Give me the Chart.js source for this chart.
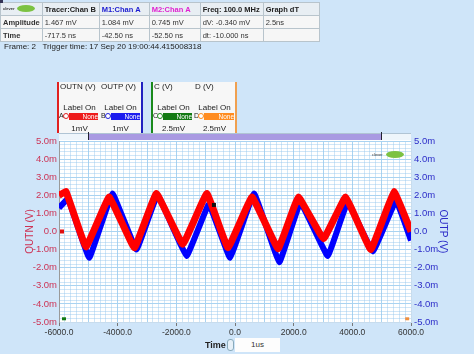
<!DOCTYPE html>
<html><head><meta charset="utf-8">
<script src="https://cdn.jsdelivr.net/npm/chart.js@4.4.0/dist/chart.umd.min.js"></script>
<style>
html,body{margin:0;padding:0;}
body{width:474px;height:354px;background:#cfe5f9;position:relative;overflow:hidden;font-family:"Liberation Sans",Arial,sans-serif;}
#c{position:absolute;left:0;top:0;z-index:0;}
.ov{position:absolute;z-index:1;}
table.t{border-collapse:collapse;font-size:7.5px;color:#333;}
table.t td{border:1px solid #b8c4cc;height:12px;padding:0 2px;background:#f6f6f6;white-space:nowrap;}
table.t tr.h td{background:#e8eef3;font-weight:bold;color:#222;}
.lg{background:#f7f7f7;font-size:8px;color:#222;}
.logo{display:inline-block;position:relative;width:32px;height:7px;}
.logo .a{position:absolute;left:0;top:1px;font-size:4px;color:#333;}
.logo .b{position:absolute;left:14px;top:0;width:18px;height:7px;border-radius:50%;background:#7cc242;}
</style></head>
<body>
<canvas id="c" width="474" height="354"></canvas>

<div class="ov" style="left:0;top:2px;">
<table class="t">
<tr class="h"><td style="width:32px"><span class="logo"><span class="a">clever</span><span class="b"></span></span></td><td style="width:52px">Tracer:Chan B</td><td style="width:45px;color:#1a1ad0">M1:Chan A</td><td style="width:46px;color:#e020d0">M2:Chan A</td><td style="width:58px">Freq: 100.0 MHz</td><td style="width:51px">Graph dT</td></tr>
<tr><td style="font-weight:bold">Amplitude</td><td>1.467 mV</td><td>1.084 mV</td><td>0.745 mV</td><td>dV: -0.340 mV</td><td>2.5ns</td></tr>
<tr><td style="font-weight:bold">Time</td><td>-717.5 ns</td><td>-42.50 ns</td><td>-52.50 ns</td><td>dt: -10.000 ns</td><td></td></tr>
</table>
</div>
<div class="ov" style="left:0;top:0;width:3px;height:3px;background:#335;"></div>
<div class="ov" style="left:4px;top:42px;font-size:8px;color:#222;white-space:pre;">Frame: 2   Trigger time: 17 Sep 20 19:00:44.415008318</div>

<!-- legend boxes -->
<div class="ov lg" style="left:57px;top:82px;width:85px;height:51px;"></div>
<div class="ov lg" style="left:151px;top:82px;width:85px;height:51px;"></div>
<div class="ov" style="left:57px;top:82px;width:2px;height:51px;background:#e02020"></div>
<div class="ov" style="left:141px;top:82px;width:2px;height:51px;background:#2020c0"></div>
<div class="ov" style="left:151px;top:82px;width:2px;height:51px;background:#1a8a1a"></div>
<div class="ov" style="left:235px;top:82px;width:2px;height:51px;background:#f0a050"></div>

<div class="ov" style="left:60px;top:82px;font-size:8px;color:#222">OUTN (V)</div>
<div class="ov" style="left:101px;top:82px;font-size:8px;color:#222">OUTP (V)</div>
<div class="ov" style="left:154px;top:82px;font-size:8px;color:#222">C (V)</div>
<div class="ov" style="left:195px;top:82px;font-size:8px;color:#222">D (V)</div>

<div class="ov" style="left:59px;top:103px;width:41px;text-align:center;font-size:8px;color:#222">Label On</div>
<div class="ov" style="left:100px;top:103px;width:41px;text-align:center;font-size:8px;color:#222">Label On</div>
<div class="ov" style="left:153px;top:103px;width:41px;text-align:center;font-size:8px;color:#222">Label On</div>
<div class="ov" style="left:194px;top:103px;width:41px;text-align:center;font-size:8px;color:#222">Label On</div>

<div class="ov" style="left:59px;top:112px;font-size:7px;color:#222">A</div>
<div class="ov" style="left:63px;top:113px;width:4px;height:4px;border:1.5px solid #e02020;border-radius:50%;background:#fff"></div>
<div class="ov" style="left:69px;top:113px;width:29px;height:7px;background:#ee1c1c;color:#fff;font-size:6.5px;text-align:right;line-height:7px;">None</div>
<div class="ov" style="left:101px;top:112px;font-size:7px;color:#222">B</div>
<div class="ov" style="left:105px;top:113px;width:4px;height:4px;border:1.5px solid #2020e0;border-radius:50%;background:#fff"></div>
<div class="ov" style="left:111px;top:113px;width:29px;height:7px;background:#1c1cee;color:#fff;font-size:6.5px;text-align:right;line-height:7px;">None</div>
<div class="ov" style="left:153px;top:112px;font-size:7px;color:#222">C</div>
<div class="ov" style="left:157px;top:113px;width:4px;height:4px;border:1.5px solid #1a8a1a;border-radius:50%;background:#fff"></div>
<div class="ov" style="left:163px;top:113px;width:29px;height:7px;background:#137a13;color:#fff;font-size:6.5px;text-align:right;line-height:7px;">None</div>
<div class="ov" style="left:194px;top:112px;font-size:7px;color:#222">D</div>
<div class="ov" style="left:198px;top:113px;width:4px;height:4px;border:1.5px solid #ff8c1a;border-radius:50%;background:#fff"></div>
<div class="ov" style="left:204px;top:113px;width:30px;height:7px;background:#ff8c20;color:#fff;font-size:6.5px;text-align:right;line-height:7px;">None</div>

<div class="ov" style="left:59px;top:124px;width:41px;text-align:center;font-size:8px;color:#222">1mV</div>
<div class="ov" style="left:100px;top:124px;width:41px;text-align:center;font-size:8px;color:#222">1mV</div>
<div class="ov" style="left:153px;top:124px;width:41px;text-align:center;font-size:8px;color:#222">2.5mV</div>
<div class="ov" style="left:194px;top:124px;width:41px;text-align:center;font-size:8px;color:#222">2.5mV</div>

<!-- overview bar -->
<div class="ov" style="left:59px;top:133px;width:352px;height:6px;background:#eef5fb;border-top:1px solid #b0c4d4;"></div>
<div class="ov" style="left:89px;top:134px;width:292px;height:6px;background:#a99ae2;"></div>
<div class="ov" style="left:88px;top:132px;width:1px;height:8px;background:#223;"></div>
<div class="ov" style="left:381px;top:132px;width:1px;height:8px;background:#223;"></div>

<!-- logo in plot -->
<div class="ov" style="left:372px;top:144px;"><span class="logo"><span class="a">clever</span><span class="b"></span></span></div>

<!-- time control -->
<div class="ov" style="left:205px;top:340px;font-size:9px;font-weight:bold;color:#222">Time</div>
<div class="ov" style="left:227px;top:339px;width:5px;height:10px;border:1px solid #8ab;border-radius:3px;background:#e6f0f8"></div>
<div class="ov" style="left:235px;top:338px;width:45px;height:14px;background:#fdfdfd;font-size:8px;color:#333;text-align:center;line-height:14px;">1us</div>

<script>
// ---- data (time in ns, voltage in mV) ----
const timeOutn = [-6000,-5760,-5080,-4290,-3430,-2680,-1780,-960,-240,580,1470,2160,3020,3770,4630,5420,6000];
const outn     = [2.0,2.2,-0.85,1.9,-0.9,2.1,-0.7,2.1,-0.9,1.9,-0.95,1.9,-0.4,1.9,-1.0,2.2,0.0];
const timeOutp = [-6000,-5690,-4970,-4180,-3360,-2640,-1650,-890,-170,650,1510,2230,3160,3840,4700,5490,6000];
const outp     = [1.3,1.8,-1.45,2.1,-1.0,2.0,-1.35,1.5,-1.45,2.1,-1.7,1.6,-1.35,1.6,-1.1,1.7,-0.5];
const xTickLabels = [-6000,-4000,-2000,0,2000,4000,6000];
const yTickLabels = [5,4,3,2,1,0,-1,-2,-3,-4,-5];
// markers: cursor (Tracer Chan B), zero marker, trigger markers
const cursorTime = [-717.5], cursorAmp = [1.467];
const zeroMarkerTime = [-6000], zeroMarkerAmp = [0];
const trigMarkerTime = [-5830, 5870], trigMarkerAmp = [-4.85, -4.85];

const isMult = (v, m) => Math.abs(v/m - Math.round(v/m)) < 1e-6;

const markerPlugin = {
  id: 'markers',
  beforeDraw(chart) {
    const {ctx, chartArea: a} = chart;
    ctx.save();
    ctx.fillStyle = '#ffffff';
    ctx.fillRect(a.left, a.top - 2, a.right - a.left, a.bottom - a.top + 3);
    ctx.restore();
  },
  afterDatasetsDraw(chart) {
    const {ctx} = chart;
    const xs = chart.scales.x, yl = chart.scales.y, yr = chart.scales.y2;
    ctx.save();
    ctx.fillStyle = '#e01010';
    zeroMarkerTime.forEach((t,i)=>{ ctx.fillRect(xs.getPixelForValue(t)+1, yl.getPixelForValue(zeroMarkerAmp[i])-2, 4, 4); });
    ctx.fillStyle = '#111';
    cursorTime.forEach((t,i)=>{ ctx.fillRect(xs.getPixelForValue(t)-2, yr.getPixelForValue(cursorAmp[i])-2, 4, 4); });
    const tc = ['#137a13', '#f09040'];
    trigMarkerTime.forEach((t,i)=>{ ctx.fillStyle = tc[i]; ctx.fillRect(xs.getPixelForValue(t)-2, yl.getPixelForValue(trigMarkerAmp[i])-2, 4, 3); });
    ctx.restore();
  }
};

const tickFont = {family: 'Liberation Sans', size: 9.5};
const xTickFont = {family: 'Liberation Sans', size: 8.5};
const minorGrid = 'rgba(150,200,238,0.45)';
const majorGrid = '#a9d3f1';

new Chart(document.getElementById('c'), {
  type: 'line',
  data: {
    datasets: [
      {label: 'OUTN (V)', data: timeOutn.map((t,i)=>({x:t, y:outn[i]})), borderColor: '#ff0000', borderWidth: 7, yAxisID: 'y', order: 0, pointRadius: 0, tension: 0.07},
      {label: 'OUTP (V)', data: timeOutp.map((t,i)=>({x:t, y:outp[i]})), borderColor: '#0000ff', borderWidth: 6, yAxisID: 'y2', order: 1, pointRadius: 0, tension: 0.07}
    ]
  },
  options: {
    responsive: false,
    animation: false,
    layout: {padding: {left: 0, right: 0, top: 141, bottom: 10}},
    plugins: {legend: {display: false}, tooltip: {enabled: false}},
    scales: {
      x: {
        type: 'linear', min: -6000, max: 6000,
        afterFit(s){ s.height = 22; },
        ticks: {stepSize: 200, autoSkip: false, maxRotation: 0, color: '#333', font: xTickFont, padding: 2,
          callback: v => xTickLabels.some(l => Math.abs(l - v) < 1e-6) ? v.toFixed(1) : ''},
        grid: {drawTicks: true, tickLength: 4,
          color: c => isMult(c.tick.value, 1000) ? majorGrid : minorGrid,
          tickColor: c => xTickLabels.some(l => Math.abs(l - c.tick.value) < 1e-6) ? '#777' : 'rgba(0,0,0,0)'},
        border: {color: '#c8dced'}
      },
      y: {
        position: 'left', min: -5, max: 5,
        afterFit(s){ s.width = 59; },
        ticks: {stepSize: 0.2, autoSkip: false, color: '#cc3355', font: tickFont, padding: 2,
          callback: v => yTickLabels.some(l => Math.abs(l - v) < 1e-6) ? (Math.abs(v) < 1e-6 ? '0.0' : v.toFixed(1) + 'm') : ''},
        grid: {drawTicks: false, color: c => isMult(c.tick.value, 1) ? majorGrid : minorGrid},
        border: {color: '#9a9a9a'},
        title: {display: true, text: 'OUTN (V)', color: '#cc3355', font: {family: 'Liberation Sans', size: 10}, padding: {top: 24, bottom: 0}}
      },
      y2: {
        position: 'right', min: -5, max: 5,
        afterFit(s){ s.width = 63; },
        ticks: {stepSize: 0.2, autoSkip: false, color: '#2c2cc8', font: tickFont, padding: 3,
          callback: v => yTickLabels.some(l => Math.abs(l - v) < 1e-6) ? (Math.abs(v) < 1e-6 ? '0.0' : v.toFixed(1) + 'm') : ''},
        grid: {drawOnChartArea: false, drawTicks: false},
        border: {color: '#c8dced'},
        title: {display: true, text: 'OUTP (V)', color: '#2c2cc8', font: {family: 'Liberation Sans', size: 10}, padding: {top: 25, bottom: 0}}
      }
    }
  },
  plugins: [markerPlugin]
});
</script>
</body></html>
